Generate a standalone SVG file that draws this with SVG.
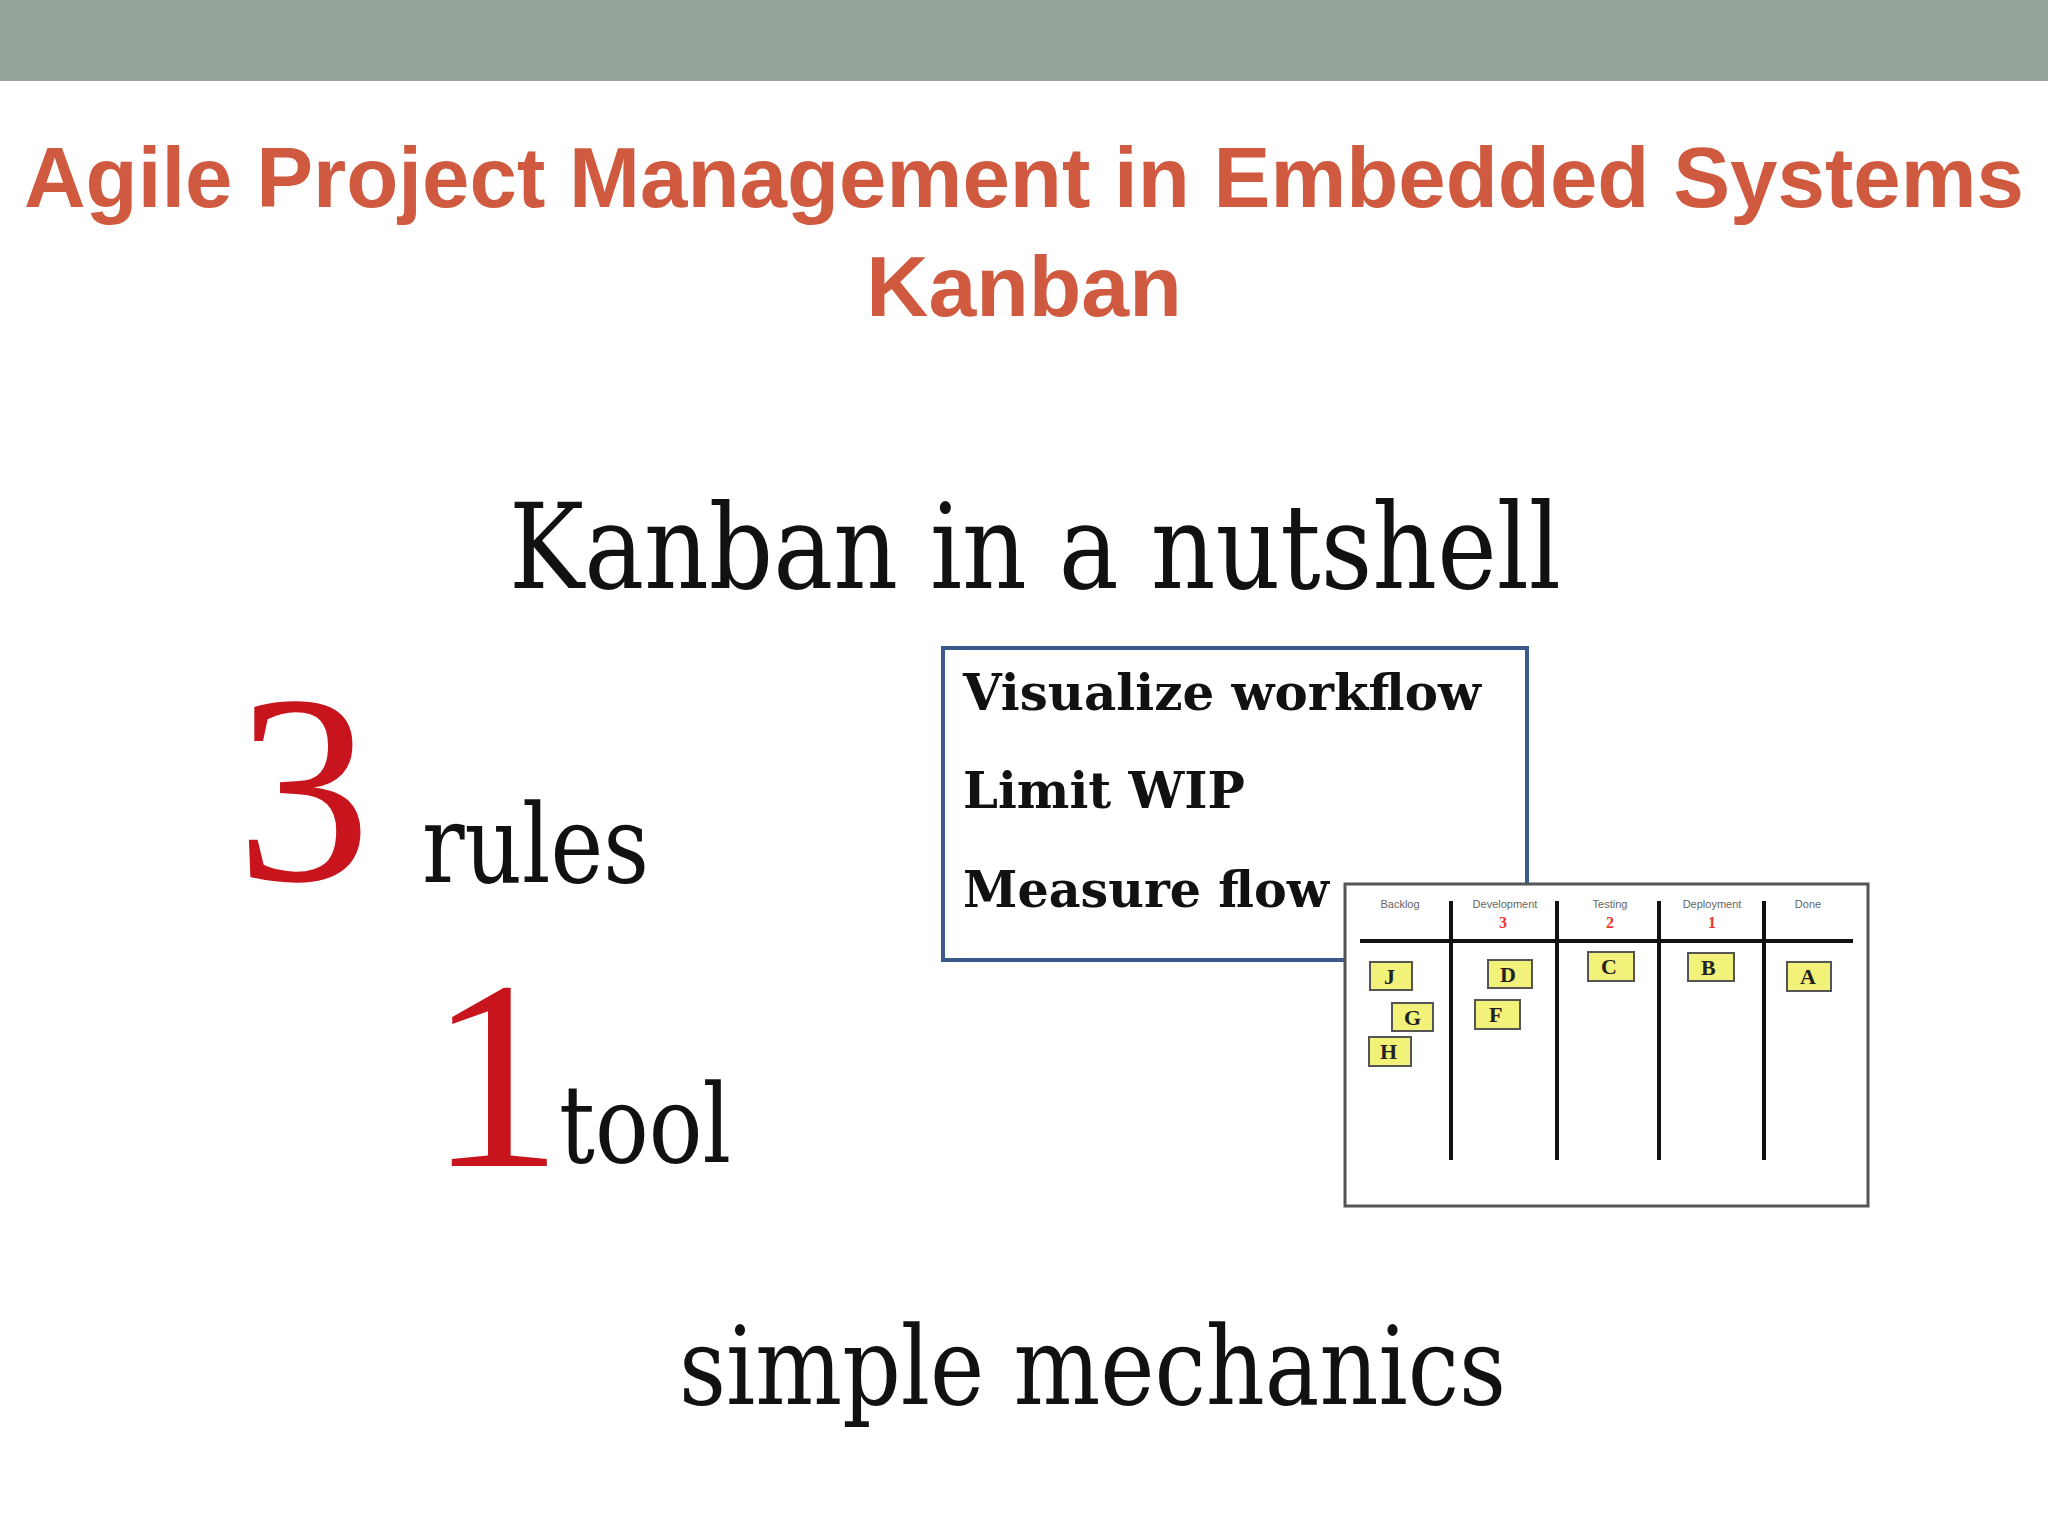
<svg xmlns="http://www.w3.org/2000/svg" width="2048" height="1536" viewBox="0 0 2048 1536">
<style>
.t{font-family:"Liberation Sans",Arial,sans-serif;font-weight:bold;fill:#d05a3f;font-size:86px}
.s{font-family:"DejaVu Serif","Liberation Serif",serif;fill:#111}
.r{font-family:"Liberation Serif",serif;fill:#c8141c}
.rule{font-family:"DejaVu Serif","Liberation Serif",serif;font-weight:bold;font-size:50px;fill:#111}
.card{fill:#f2f27a;stroke:#555;stroke-width:2}
.cl{font-family:"Liberation Serif",serif;font-weight:bold;font-size:22px;fill:#222}
.hd{font-family:"Liberation Sans",sans-serif;font-size:11px;fill:#666}
.num{font-family:"Liberation Serif",serif;font-weight:bold;font-size:16px;fill:#e33}
.ln{stroke:#111;stroke-width:4}
</style>
<rect width="2048" height="1536" fill="#fff"/>
<rect width="2048" height="81" fill="#95a39b"/>
<text class="t" x="1024" y="207" text-anchor="middle" textLength="2000" lengthAdjust="spacingAndGlyphs">Agile Project Management in Embedded Systems</text>
<text class="t" x="1024" y="316" text-anchor="middle">Kanban</text>
<text class="s" x="509" y="588" font-size="118" textLength="1052" lengthAdjust="spacingAndGlyphs">Kanban in a nutshell</text>
<text class="r" x="236" y="880" font-size="270">3</text>
<text class="s" x="422" y="882" font-size="108" textLength="227" lengthAdjust="spacingAndGlyphs">rules</text>
<text class="r" x="428" y="1166" font-size="270">1</text>
<text class="s" x="559" y="1162" font-size="108" textLength="172" lengthAdjust="spacingAndGlyphs">tool</text>
<text class="s" x="679" y="1404" font-size="108" textLength="827" lengthAdjust="spacingAndGlyphs">simple mechanics</text>
<g id="rules">
<rect x="943" y="648" width="584" height="312" fill="#fff" stroke="#3a5a8c" stroke-width="4"/>
<text class="rule" x="963" y="710" textLength="518" lengthAdjust="spacingAndGlyphs">Visualize workflow</text>
<text class="rule" x="963" y="808" textLength="282" lengthAdjust="spacingAndGlyphs">Limit WIP</text>
<text class="rule" x="963" y="907" textLength="366" lengthAdjust="spacingAndGlyphs">Measure flow</text>
</g>
<g id="board">
<rect x="1345" y="884" width="523" height="322" fill="#fff" stroke="#555" stroke-width="3"/>
<line class="ln" x1="1360" y1="941" x2="1853" y2="941"/>
<line class="ln" x1="1451" y1="901" x2="1451" y2="1160"/>
<line class="ln" x1="1557" y1="901" x2="1557" y2="1160"/>
<line class="ln" x1="1659" y1="901" x2="1659" y2="1160"/>
<line class="ln" x1="1764" y1="901" x2="1764" y2="1160"/>
<text class="hd" x="1400" y="908" text-anchor="middle">Backlog</text>
<text class="hd" x="1505" y="908" text-anchor="middle">Development</text>
<text class="num" x="1503" y="928" text-anchor="middle">3</text>
<text class="hd" x="1610" y="908" text-anchor="middle">Testing</text>
<text class="num" x="1610" y="928" text-anchor="middle">2</text>
<text class="hd" x="1712" y="908" text-anchor="middle">Deployment</text>
<text class="num" x="1712" y="928" text-anchor="middle">1</text>
<text class="hd" x="1808" y="908" text-anchor="middle">Done</text>
<g id="cJ"><rect class="card" x="1370" y="962" width="42" height="28"/><text class="cl" x="1384" y="984">J</text></g>
<g id="cG"><rect class="card" x="1392" y="1003" width="41" height="28"/><text class="cl" x="1404" y="1025">G</text></g>
<g id="cH"><rect class="card" x="1369" y="1037" width="42" height="29"/><text class="cl" x="1380" y="1059">H</text></g>
<g id="cD"><rect class="card" x="1488" y="960" width="44" height="28"/><text class="cl" x="1500" y="982">D</text></g>
<g id="cF"><rect class="card" x="1475" y="1000" width="45" height="29"/><text class="cl" x="1489" y="1022">F</text></g>
<g id="cC"><rect class="card" x="1588" y="952" width="46" height="29"/><text class="cl" x="1601" y="974">C</text></g>
<g id="cB"><rect class="card" x="1688" y="953" width="46" height="28"/><text class="cl" x="1701" y="975">B</text></g>
<g id="cA"><rect class="card" x="1787" y="962" width="44" height="29"/><text class="cl" x="1800" y="984">A</text></g>
</g>
<g id="connectors"/>
</svg>
